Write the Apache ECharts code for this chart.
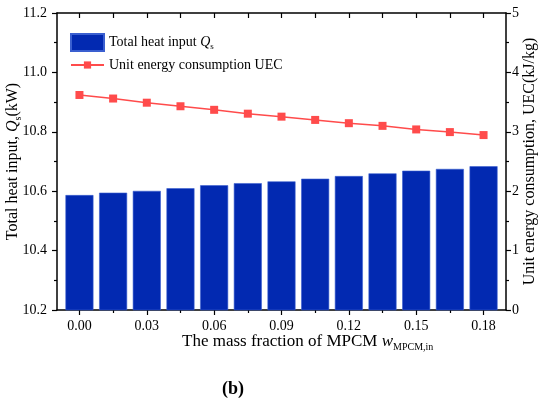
<!DOCTYPE html>
<html>
<head>
<meta charset="utf-8">
<script src="https://cdn.jsdelivr.net/npm/echarts@6/dist/echarts.min.js"></script>
<style>
  html, body { margin: 0; padding: 0; background: #fff; }
  #chart { width: 550px; height: 403px; }
</style>
</head>
<body>
<div id="chart"></div>
<script>
// mass fraction of MPCM (x positions of bars / points)
var massFraction = [0, 0.015, 0.03, 0.045, 0.06, 0.075, 0.09, 0.105, 0.12, 0.135, 0.15, 0.165, 0.18];
// labelled ticks on the x axis
var xLabels = [0, 0.03, 0.06, 0.09, 0.12, 0.15, 0.18];
var xMinorTicks = [0.015, 0.045, 0.075, 0.105, 0.135, 0.165];
// total heat input Qs (kW)
var heatInput = [10.587, 10.595, 10.601, 10.610, 10.620, 10.627, 10.633, 10.642, 10.651, 10.660, 10.669, 10.675, 10.684];
// unit energy consumption UEC (kJ/kg)
var uec = [3.62, 3.56, 3.49, 3.43, 3.37, 3.305, 3.255, 3.20, 3.145, 3.10, 3.04, 2.995, 2.945];

var FONT = 'Liberation Serif';

window.onload = function () {
  var myChart = echarts.init(document.getElementById('chart'));

  var barData = massFraction.map(function (x, i) { return [x, heatInput[i]]; });
  var lineData = massFraction.map(function (x, i) { return [x, uec[i]]; });

  var axisLine = { show: true, onZero: false, lineStyle: { color: '#000', width: 1.5 } };
  var tickStyle = { color: '#000', width: 1.2 };

  var legendRich = {
    t: { fontFamily: FONT, fontSize: 14, color: '#000', lineHeight: 18 },
    q: { fontFamily: FONT, fontSize: 14, fontStyle: 'italic', color: '#000', lineHeight: 18 },
    s: { fontFamily: FONT, fontSize: 9, color: '#000', verticalAlign: 'bottom', lineHeight: 11 }
  };

  var option = {
    animation: false,
    textStyle: { fontFamily: FONT },
    grid: { left: 57, right: 44, top: 13, bottom: 93, outerBoundsMode: 'none', containLabel: false },
    title: {
      text: '{t|The mass fraction of MPCM }{w|w}{s|MPCM,in}',
      left: 182,
      top: 332,
      padding: 0,
      textStyle: {
        fontWeight: 'normal',
        rich: {
          t: { fontFamily: FONT, fontSize: 17, fontWeight: 'normal', color: '#000', lineHeight: 20 },
          w: { fontFamily: FONT, fontSize: 17, fontWeight: 'normal', fontStyle: 'italic', color: '#000', lineHeight: 20 },
          s: { fontFamily: FONT, fontSize: 10, fontWeight: 'normal', color: '#000', verticalAlign: 'bottom', lineHeight: 12 }
        }
      }
    },
    graphic: [{
      type: 'text',
      left: 222,
      top: 380,
      style: { text: '(b)', font: 'bold 18px "Liberation Serif"', fill: '#000' }
    }],
    legend: [{
      left: 70,
      top: 33,
      padding: 0,
      itemWidth: 33,
      itemHeight: 17,
      itemGap: 5,
      data: [{ name: 'Total heat input Qs', icon: 'rect' }],
      formatter: function () { return '{t|Total heat input }{q|Q}{s|s}'; },
      textStyle: { rich: legendRich }
    }, {
      left: 70,
      top: 58,
      padding: 0,
      itemWidth: 33,
      itemHeight: 9,
      itemGap: 5,
      data: ['Unit energy consumption UEC'],
      formatter: function (name) { return '{t|' + name + '}'; },
      textStyle: { rich: legendRich }
    }],
    xAxis: [{
      type: 'value',
      position: 'bottom',
      min: -0.01,
      max: 0.19,
      axisLine: axisLine,
      splitLine: { show: false },
      axisTick: { show: true, length: 5, lineStyle: tickStyle, customValues: xLabels },
      axisLabel: {
        color: '#000', fontFamily: FONT, fontSize: 14, margin: 9,
        customValues: xLabels,
        formatter: function (v) { return v.toFixed(2); }
      }
    }, {
      type: 'value',
      position: 'bottom',
      min: -0.01,
      max: 0.19,
      axisLine: { show: false, onZero: false },
      splitLine: { show: false },
      axisTick: { show: true, length: 3, lineStyle: tickStyle, customValues: xMinorTicks },
      axisLabel: { show: false }
    }, {
      type: 'value',
      position: 'top',
      min: -0.01,
      max: 0.19,
      axisLine: axisLine,
      splitLine: { show: false },
      axisTick: { show: true, inside: true, length: 5, lineStyle: tickStyle, customValues: massFraction },
      axisLabel: { show: false }
    }],
    yAxis: [{
      type: 'value',
      position: 'left',
      min: 10.2,
      max: 11.2,
      interval: 0.2,
      axisLine: axisLine,
      splitLine: { show: false },
      axisTick: { show: true, length: 5, lineStyle: tickStyle },
      minorTick: { show: true, splitNumber: 2, length: 3, lineStyle: tickStyle },
      axisLabel: {
        color: '#000', fontFamily: FONT, fontSize: 14, margin: 10,
        formatter: function (v) { return v.toFixed(1); }
      },
      name: '{t|Total heat input, }{q|Q}{s|s}{t|(kW)}',
      nameLocation: 'middle',
      nameGap: 34,
      nameMoveOverlap: false,
      nameTextStyle: {
        rich: {
          t: { fontFamily: FONT, fontSize: 16, color: '#000', lineHeight: 20 },
          q: { fontFamily: FONT, fontSize: 16, fontStyle: 'italic', color: '#000', lineHeight: 20 },
          s: { fontFamily: FONT, fontSize: 10, color: '#000', verticalAlign: 'bottom', lineHeight: 12 }
        }
      }
    }, {
      type: 'value',
      position: 'right',
      min: 0,
      max: 5,
      interval: 1,
      axisLine: axisLine,
      splitLine: { show: false },
      axisTick: { show: true, length: 5, lineStyle: tickStyle },
      minorTick: { show: true, splitNumber: 2, length: 3, lineStyle: tickStyle },
      axisLabel: { color: '#000', fontFamily: FONT, fontSize: 14, margin: 6 },
      name: 'Unit energy consumption, UEC(kJ/kg)',
      nameLocation: 'middle',
      nameGap: 16,
      nameMoveOverlap: false,
      nameTextStyle: { fontFamily: FONT, fontSize: 16, color: '#000' }
    }],
    series: [{
      name: 'Total heat input Qs',
      type: 'bar',
      xAxisIndex: 0,
      yAxisIndex: 0,
      barWidth: 28,
      data: barData,
      itemStyle: { color: '#0229b1', borderColor: '#3a5fd0', borderWidth: 0.6 }
    }, {
      name: 'Unit energy consumption UEC',
      type: 'line',
      xAxisIndex: 0,
      yAxisIndex: 1,
      data: lineData,
      symbol: 'rect',
      symbolSize: 8,
      lineStyle: { color: '#ff4b4b', width: 1.5 },
      itemStyle: { color: '#ff4b4b' },
      z: 5
    }]
  };

  myChart.setOption(option);
};
</script>
</body>
</html>
